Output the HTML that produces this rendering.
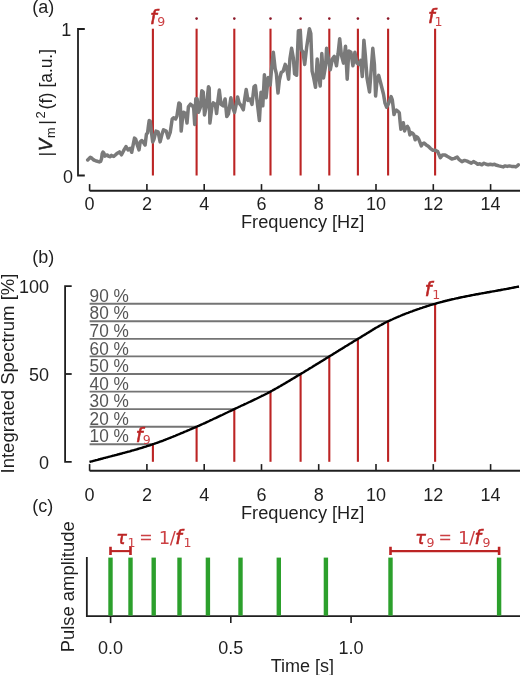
<!DOCTYPE html>
<html><head><meta charset="utf-8"><title>Figure</title>
<style>
html,body{margin:0;padding:0;background:#fff;}
svg{display:block;}
text{font-family:'Liberation Sans', 'DejaVu Sans', sans-serif;}
</style></head><body>
<svg width="520" height="675" viewBox="0 0 520 675">
<rect width="520" height="675" fill="#fff"/>
<text x="32.2" y="13.4" font-size="18" fill="#1f1f1f">(a)</text>
<path d="M84.8 29 H78 V175.5 H84.8" fill="none" stroke="#1f1f1f" stroke-width="1.8"/>
<text x="71.2" y="35.7" font-size="18" fill="#1f1f1f" text-anchor="end">1</text>
<text x="73" y="182.8" font-size="18" fill="#1f1f1f" text-anchor="end">0</text>
<path d="M89.6 190.8 H520" fill="none" stroke="#1f1f1f" stroke-width="1.9"/>
<path d="M89.6 184.1 V190.8" stroke="#1f1f1f" stroke-width="1.6"/>
<text x="89.6" y="210" font-size="18" fill="#1f1f1f" text-anchor="middle">0</text>
<path d="M146.9 184.1 V190.8" stroke="#1f1f1f" stroke-width="1.6"/>
<text x="146.9" y="210" font-size="18" fill="#1f1f1f" text-anchor="middle">2</text>
<path d="M204.2 184.1 V190.8" stroke="#1f1f1f" stroke-width="1.6"/>
<text x="204.2" y="210" font-size="18" fill="#1f1f1f" text-anchor="middle">4</text>
<path d="M261.5 184.1 V190.8" stroke="#1f1f1f" stroke-width="1.6"/>
<text x="261.5" y="210" font-size="18" fill="#1f1f1f" text-anchor="middle">6</text>
<path d="M318.7 184.1 V190.8" stroke="#1f1f1f" stroke-width="1.6"/>
<text x="318.7" y="210" font-size="18" fill="#1f1f1f" text-anchor="middle">8</text>
<path d="M376.0 184.1 V190.8" stroke="#1f1f1f" stroke-width="1.6"/>
<text x="376.0" y="210" font-size="18" fill="#1f1f1f" text-anchor="middle">10</text>
<path d="M433.3 184.1 V190.8" stroke="#1f1f1f" stroke-width="1.6"/>
<text x="433.3" y="210" font-size="18" fill="#1f1f1f" text-anchor="middle">12</text>
<path d="M490.6 184.1 V190.8" stroke="#1f1f1f" stroke-width="1.6"/>
<text x="490.6" y="210" font-size="18" fill="#1f1f1f" text-anchor="middle">14</text>
<text x="302.7" y="227.7" font-size="18" fill="#1f1f1f" text-anchor="middle" textLength="123.5" lengthAdjust="spacingAndGlyphs">Frequency [Hz]</text>
<g transform="translate(52.3,0) rotate(-90)" fill="#1f1f1f" font-size="18"><text x="-156.6" y="0">|</text><text x="-151" y="0" font-style="italic" stroke="#1f1f1f" stroke-width="0.6">V</text><text x="-138" y="2.3" font-size="12.7">m</text><text x="-124.7" y="0">|</text><text x="-118.6" y="-7" font-size="13">2</text><text x="-109.6" y="0">(f)</text><text x="-87.5" y="0" textLength="38.5" lengthAdjust="spacingAndGlyphs">[a.u.]</text></g>
<path d="M152.9 28.7 V175.5" stroke="#bc2424" stroke-width="2.1"/>
<path d="M196.6 28.7 V175.5" stroke="#bc2424" stroke-width="2.1"/>
<circle cx="196.6" cy="18.6" r="1.3" fill="#8c1828"/>
<path d="M234.3 28.7 V175.5" stroke="#bc2424" stroke-width="2.1"/>
<circle cx="234.3" cy="18.6" r="1.3" fill="#8c1828"/>
<path d="M270.5 28.7 V175.5" stroke="#bc2424" stroke-width="2.1"/>
<circle cx="270.5" cy="18.6" r="1.3" fill="#8c1828"/>
<path d="M300.6 28.7 V175.5" stroke="#bc2424" stroke-width="2.1"/>
<circle cx="300.6" cy="18.6" r="1.3" fill="#8c1828"/>
<path d="M329.3 28.7 V175.5" stroke="#bc2424" stroke-width="2.1"/>
<circle cx="329.3" cy="18.6" r="1.3" fill="#8c1828"/>
<path d="M357.9 28.7 V175.5" stroke="#bc2424" stroke-width="2.1"/>
<circle cx="357.9" cy="18.6" r="1.3" fill="#8c1828"/>
<path d="M388.1 28.7 V175.5" stroke="#bc2424" stroke-width="2.1"/>
<circle cx="388.1" cy="18.6" r="1.3" fill="#8c1828"/>
<path d="M435.1 28.7 V175.5" stroke="#bc2424" stroke-width="2.1"/>
<text x="150.0" y="23.5" font-size="19.5" style="font-family:'DejaVu Sans', 'Liberation Sans', sans-serif" fill="#bc2424" font-style="italic" stroke="#bc2424" stroke-width="0.55">f</text>
<text x="157.3" y="26.2" font-size="12.6" style="font-family:'DejaVu Sans', 'Liberation Sans', sans-serif" fill="#cc4044">9</text>
<text x="428" y="23.2" font-size="19.5" style="font-family:'DejaVu Sans', 'Liberation Sans', sans-serif" fill="#bc2424" font-style="italic" stroke="#bc2424" stroke-width="0.55">f</text>
<text x="434.4" y="26.1" font-size="12.6" style="font-family:'DejaVu Sans', 'Liberation Sans', sans-serif" fill="#cc4044">1</text>
<polyline points="87.7,159.9 88.9,158.7 90.3,157.4 91.8,158.1 93.2,159.6 94.7,160.4 96.1,161.0 97.5,161.3 99.3,161.9 100.7,161.3 101.6,158.4 102.2,153.8 103.0,152.1 103.9,153.2 104.8,156.1 105.9,155.5 107.4,155.0 108.8,156.4 110.2,156.7 111.4,155.3 112.5,156.1 113.7,156.4 114.9,155.3 116.0,154.4 117.4,153.2 119.5,151.9 121.5,154.8 123.6,150.7 126.0,146.6 128.0,149.9 130.1,148.3 131.7,152.3 133.3,144.2 134.5,138.1 135.8,139.3 137.0,144.2 139.0,149.9 140.2,141.8 141.9,140.5 143.5,142.6 145.1,145.0 146.4,134.4 147.6,132.8 148.4,126.3 149.2,120.6 150.2,121.0 151.3,131.1 152.7,141.9 154.0,139.2 156.0,131.1 158.1,131.8 160.1,141.9 162.1,133.8 163.5,129.8 166.2,131.1 168.2,137.9 170.2,132.5 172.2,119.0 173.6,117.7 175.6,119.0 176.9,116.3 178.9,102.9 180.3,104.2 181.2,131.1 182.3,120.4 183.6,112.3 185.7,113.6 187.0,123.1 188.4,106.9 190.4,104.2 192.4,105.6 193.7,108.3 194.7,124.4 195.8,98.8 197.1,98.8 198.5,112.3 200.5,106.9 201.8,90.8 203.2,92.1 204.5,115.0 206.5,105.6 208.5,86.7 209.2,88.1 209.9,123.1 211.9,106.9 213.3,102.9 215.3,104.2 216.6,113.6 218.0,100.2 219.3,90.1 221.0,104.4 223.1,105.8 225.1,99.0 226.8,116.5 228.5,113.8 230.9,97.7 232.5,107.1 234.5,112.5 235.9,105.8 237.6,97.0 239.2,103.1 241.2,105.8 243.3,109.8 244.9,97.7 246.2,89.6 248.0,100.4 250.0,99.0 252.0,104.4 254.0,86.9 255.4,85.6 257.0,100.4 259.4,120.6 261.0,92.3 262.8,105.8 264.4,74.8 266.1,97.7 268.2,77.5 270.2,85.0 271.7,67.1 273.3,52.3 275.1,68.5 276.4,73.8 278.0,93.0 279.4,80.0 281.2,72.5 283.2,71.1 285.2,64.4 286.5,67.1 288.6,79.2 289.9,59.0 291.6,48.3 293.3,57.7 294.6,73.8 296.6,75.2 298.4,30.8 300.3,30.8 301.3,49.6 303.0,52.3 304.7,64.4 306.7,46.9 309.4,28.7 310.8,33.5 312.1,71.1 313.7,77.9 315.5,87.3 317.2,59.0 318.8,76.5 320.2,86.0 321.8,53.6 323.5,77.9 325.6,65.8 326.6,48.3 328.3,57.7 330.3,69.8 332.3,59.0 334.3,56.3 336.5,65.8 338.1,53.6 339.7,38.8 341.4,55.0 343.5,63.1 345.5,46.2 347.2,79.2 348.8,51.0 350.9,52.3 352.9,65.8 354.9,52.3 356.9,63.1 358.9,64.4 360.7,60.4 362.3,76.5 363.9,40.2 365.3,55.0 367.0,77.9 369.5,92.0 372.8,48.3 374.4,64.4 375.6,96.0 377.0,80.0 378.7,75.4 380.8,83.5 383.5,94.2 385.0,103.1 386.6,107.2 388.3,104.0 389.9,99.9 391.1,96.6 392.3,99.9 393.1,106.4 394.0,114.6 395.2,111.3 396.4,110.1 398.0,111.3 399.3,112.9 400.1,121.9 400.9,129.2 402.1,126.0 403.3,122.7 404.6,130.9 405.8,127.6 407.4,126.4 408.6,128.4 409.9,134.9 411.1,132.5 412.7,133.3 413.9,134.9 415.2,139.8 416.4,136.6 417.6,137.4 418.8,139.4 420.0,142.3 421.3,145.9 422.5,143.9 424.1,143.1 426.2,144.9 428.3,146.2 430.3,148.3 433.0,150.3 435.3,150.3 437.7,151.6 440.4,157.7 442.4,155.0 445.1,155.0 447.1,156.3 449.8,157.7 451.8,159.0 454.5,158.4 457.2,157.0 459.2,159.7 461.9,161.7 464.6,160.4 467.1,161.1 469.2,162.2 471.3,163.2 473.5,161.6 475.6,162.7 477.7,164.3 479.8,163.8 481.9,164.8 484.0,163.2 486.2,164.3 488.3,164.8 490.4,164.3 492.5,164.8 494.6,164.3 496.7,165.3 498.9,165.9 501.0,166.4 503.1,166.9 505.2,165.9 507.3,166.4 509.4,165.9 511.6,166.4 513.7,166.4 515.8,166.9 517.9,165.3 518.4,164.8" fill="none" stroke="#7a7a7a" stroke-width="3.5" stroke-linejoin="round" stroke-linecap="round"/>
<text x="32.2" y="262.5" font-size="18" fill="#1f1f1f">(b)</text>
<path d="M71.7 286.2 H65.1 V461.8 H71.7" fill="none" stroke="#1f1f1f" stroke-width="1.8"/>
<path d="M65.1 374 H71.7" fill="none" stroke="#1f1f1f" stroke-width="1.8"/>
<text x="49" y="293.3" font-size="18" fill="#1f1f1f" text-anchor="end">100</text>
<text x="49" y="381.4" font-size="18" fill="#1f1f1f" text-anchor="end">50</text>
<text x="49" y="469" font-size="18" fill="#1f1f1f" text-anchor="end">0</text>
<path d="M89.6 470.8 H520" fill="none" stroke="#1f1f1f" stroke-width="1.9"/>
<path d="M89.6 464.1 V470.8" stroke="#1f1f1f" stroke-width="1.6"/>
<text x="89.6" y="501.2" font-size="18" fill="#1f1f1f" text-anchor="middle">0</text>
<path d="M146.9 464.1 V470.8" stroke="#1f1f1f" stroke-width="1.6"/>
<text x="146.9" y="501.2" font-size="18" fill="#1f1f1f" text-anchor="middle">2</text>
<path d="M204.2 464.1 V470.8" stroke="#1f1f1f" stroke-width="1.6"/>
<text x="204.2" y="501.2" font-size="18" fill="#1f1f1f" text-anchor="middle">4</text>
<path d="M261.5 464.1 V470.8" stroke="#1f1f1f" stroke-width="1.6"/>
<text x="261.5" y="501.2" font-size="18" fill="#1f1f1f" text-anchor="middle">6</text>
<path d="M318.7 464.1 V470.8" stroke="#1f1f1f" stroke-width="1.6"/>
<text x="318.7" y="501.2" font-size="18" fill="#1f1f1f" text-anchor="middle">8</text>
<path d="M376.0 464.1 V470.8" stroke="#1f1f1f" stroke-width="1.6"/>
<text x="376.0" y="501.2" font-size="18" fill="#1f1f1f" text-anchor="middle">10</text>
<path d="M433.3 464.1 V470.8" stroke="#1f1f1f" stroke-width="1.6"/>
<text x="433.3" y="501.2" font-size="18" fill="#1f1f1f" text-anchor="middle">12</text>
<path d="M490.6 464.1 V470.8" stroke="#1f1f1f" stroke-width="1.6"/>
<text x="490.6" y="501.2" font-size="18" fill="#1f1f1f" text-anchor="middle">14</text>
<text x="302.7" y="518.8" font-size="18" fill="#1f1f1f" text-anchor="middle" textLength="123.5" lengthAdjust="spacingAndGlyphs">Frequency [Hz]</text>
<text transform="translate(14.2,473.5) rotate(-90)" font-size="18" fill="#1f1f1f" textLength="200" lengthAdjust="spacingAndGlyphs">Integrated Spectrum [%]</text>
<path d="M89.6 444.2 H152.9" stroke="#747474" stroke-width="1.9"/>
<text x="89.6" y="442.3" font-size="18" fill="#555555" textLength="39.3" lengthAdjust="spacingAndGlyphs">10 %</text>
<path d="M89.6 426.7 H196.6" stroke="#747474" stroke-width="1.9"/>
<text x="89.6" y="424.8" font-size="18" fill="#555555" textLength="39.3" lengthAdjust="spacingAndGlyphs">20 %</text>
<path d="M89.6 409.1 H234.3" stroke="#747474" stroke-width="1.9"/>
<text x="89.6" y="407.2" font-size="18" fill="#555555" textLength="39.3" lengthAdjust="spacingAndGlyphs">30 %</text>
<path d="M89.6 391.6 H270.5" stroke="#747474" stroke-width="1.9"/>
<text x="89.6" y="389.7" font-size="18" fill="#555555" textLength="39.3" lengthAdjust="spacingAndGlyphs">40 %</text>
<path d="M89.6 374.0 H300.6" stroke="#747474" stroke-width="1.9"/>
<text x="89.6" y="372.1" font-size="18" fill="#555555" textLength="39.3" lengthAdjust="spacingAndGlyphs">50 %</text>
<path d="M89.6 356.4 H329.3" stroke="#747474" stroke-width="1.9"/>
<text x="89.6" y="354.5" font-size="18" fill="#555555" textLength="39.3" lengthAdjust="spacingAndGlyphs">60 %</text>
<path d="M89.6 338.9 H357.9" stroke="#747474" stroke-width="1.9"/>
<text x="89.6" y="337.0" font-size="18" fill="#555555" textLength="39.3" lengthAdjust="spacingAndGlyphs">70 %</text>
<path d="M89.6 321.3 H388.1" stroke="#747474" stroke-width="1.9"/>
<text x="89.6" y="319.4" font-size="18" fill="#555555" textLength="39.3" lengthAdjust="spacingAndGlyphs">80 %</text>
<path d="M89.6 303.8 H435.1" stroke="#747474" stroke-width="1.9"/>
<text x="89.6" y="301.9" font-size="18" fill="#555555" textLength="39.3" lengthAdjust="spacingAndGlyphs">90 %</text>
<path d="M152.9 444.2 V461.8" stroke="#bc2424" stroke-width="2.1"/>
<path d="M196.6 426.7 V461.8" stroke="#bc2424" stroke-width="2.1"/>
<path d="M234.3 409.1 V461.8" stroke="#bc2424" stroke-width="2.1"/>
<path d="M270.5 391.6 V461.8" stroke="#bc2424" stroke-width="2.1"/>
<path d="M300.6 374.0 V461.8" stroke="#bc2424" stroke-width="2.1"/>
<path d="M329.3 356.4 V461.8" stroke="#bc2424" stroke-width="2.1"/>
<path d="M357.9 338.9 V461.8" stroke="#bc2424" stroke-width="2.1"/>
<path d="M388.1 321.3 V461.8" stroke="#bc2424" stroke-width="2.1"/>
<path d="M435.1 303.8 V461.8" stroke="#bc2424" stroke-width="2.1"/>
<polyline points="89.5,462.0 90.5,461.7 91.5,461.4 92.5,461.2 93.5,460.9 94.5,460.6 95.5,460.3 96.5,460.1 97.6,459.8 98.6,459.5 99.6,459.3 100.6,459.0 101.6,458.7 102.6,458.5 103.6,458.2 104.6,457.9 105.6,457.7 106.6,457.4 107.6,457.2 108.6,456.9 109.6,456.6 110.6,456.4 111.6,456.1 112.6,455.8 113.7,455.6 114.7,455.3 115.7,455.1 116.7,454.8 117.7,454.5 118.7,454.3 119.7,454.0 120.7,453.7 121.7,453.5 122.7,453.2 123.7,452.9 124.7,452.7 125.7,452.4 126.7,452.1 127.7,451.8 128.7,451.6 129.8,451.3 130.8,451.0 131.8,450.7 132.8,450.4 133.8,450.2 134.8,449.9 135.8,449.6 136.8,449.3 137.8,449.0 138.8,448.7 139.8,448.4 140.8,448.1 141.8,447.8 142.8,447.5 143.8,447.2 144.8,446.9 145.9,446.6 146.9,446.2 147.9,445.9 148.9,445.6 149.9,445.3 150.9,444.9 151.9,444.6 152.9,444.2 153.9,443.9 154.9,443.5 155.9,443.2 157.0,442.8 158.0,442.5 159.0,442.1 160.0,441.7 161.0,441.3 162.0,441.0 163.1,440.6 164.1,440.2 165.1,439.8 166.1,439.4 167.1,439.0 168.1,438.6 169.2,438.2 170.2,437.8 171.2,437.4 172.2,437.0 173.2,436.6 174.2,436.2 175.3,435.8 176.3,435.3 177.3,434.9 178.3,434.5 179.3,434.1 180.3,433.7 181.4,433.2 182.4,432.8 183.4,432.4 184.4,431.9 185.4,431.5 186.4,431.1 187.5,430.6 188.5,430.2 189.5,429.8 190.5,429.3 191.5,428.9 192.5,428.4 193.6,428.0 194.6,427.6 195.6,427.1 196.6,426.7 197.6,426.2 198.6,425.8 199.7,425.3 200.7,424.9 201.7,424.4 202.7,424.0 203.7,423.5 204.8,423.1 205.8,422.6 206.8,422.1 207.8,421.7 208.8,421.2 209.8,420.7 210.9,420.2 211.9,419.8 212.9,419.3 213.9,418.8 214.9,418.3 216.0,417.9 217.0,417.4 218.0,416.9 219.0,416.4 220.0,415.9 221.1,415.4 222.1,415.0 223.1,414.5 224.1,414.0 225.1,413.5 226.1,413.0 227.2,412.5 228.2,412.0 229.2,411.5 230.2,411.1 231.2,410.6 232.3,410.1 233.3,409.6 234.3,409.1 235.3,408.6 236.3,408.2 237.3,407.7 238.3,407.2 239.3,406.7 240.3,406.3 241.3,405.8 242.3,405.3 243.4,404.9 244.4,404.4 245.4,403.9 246.4,403.5 247.4,403.0 248.4,402.5 249.4,402.0 250.4,401.6 251.4,401.1 252.4,400.6 253.4,400.1 254.4,399.6 255.4,399.2 256.4,398.7 257.4,398.2 258.4,397.7 259.4,397.2 260.4,396.7 261.4,396.2 262.5,395.7 263.5,395.2 264.5,394.7 265.5,394.2 266.5,393.7 267.5,393.2 268.5,392.6 269.5,392.1 270.5,391.6 271.5,391.0 272.5,390.5 273.5,389.9 274.5,389.4 275.5,388.8 276.5,388.3 277.5,387.7 278.5,387.1 279.5,386.5 280.5,386.0 281.5,385.4 282.5,384.8 283.5,384.2 284.5,383.6 285.6,383.0 286.6,382.4 287.6,381.8 288.6,381.2 289.6,380.6 290.6,380.0 291.6,379.4 292.6,378.8 293.6,378.2 294.6,377.6 295.6,377.0 296.6,376.4 297.6,375.8 298.6,375.2 299.6,374.6 300.6,374.0 301.6,373.4 302.7,372.8 303.7,372.2 304.7,371.5 305.7,370.9 306.8,370.3 307.8,369.7 308.8,369.0 309.8,368.4 310.9,367.8 311.9,367.2 312.9,366.5 313.9,365.9 315.0,365.3 316.0,364.6 317.0,364.0 318.0,363.4 319.1,362.7 320.1,362.1 321.1,361.5 322.1,360.9 323.2,360.2 324.2,359.6 325.2,359.0 326.2,358.3 327.2,357.7 328.3,357.1 329.3,356.4 330.3,355.8 331.3,355.2 332.4,354.6 333.4,353.9 334.4,353.3 335.4,352.7 336.4,352.0 337.5,351.4 338.5,350.8 339.5,350.1 340.5,349.5 341.6,348.9 342.6,348.2 343.6,347.6 344.6,347.0 345.6,346.3 346.7,345.7 347.7,345.1 348.7,344.5 349.7,343.8 350.8,343.2 351.8,342.6 352.8,342.0 353.8,341.3 354.8,340.7 355.9,340.1 356.9,339.5 357.9,338.9 358.9,338.3 359.9,337.7 360.9,337.1 361.9,336.4 362.9,335.8 363.9,335.2 364.9,334.6 366.0,334.0 367.0,333.3 368.0,332.7 369.0,332.1 370.0,331.5 371.0,330.9 372.0,330.3 373.0,329.6 374.0,329.0 375.0,328.4 376.0,327.8 377.0,327.3 378.0,326.7 379.0,326.1 380.0,325.5 381.1,325.0 382.1,324.4 383.1,323.9 384.1,323.3 385.1,322.8 386.1,322.3 387.1,321.8 388.1,321.3 389.1,320.8 390.1,320.4 391.1,319.9 392.1,319.5 393.1,319.0 394.1,318.5 395.1,318.1 396.1,317.7 397.1,317.2 398.1,316.8 399.1,316.4 400.1,316.0 401.1,315.5 402.1,315.1 403.1,314.7 404.1,314.3 405.1,313.9 406.1,313.5 407.1,313.1 408.1,312.8 409.1,312.4 410.1,312.0 411.1,311.6 412.1,311.3 413.1,310.9 414.1,310.5 415.1,310.2 416.1,309.8 417.1,309.5 418.1,309.1 419.1,308.8 420.1,308.4 421.1,308.1 422.1,307.8 423.1,307.4 424.1,307.1 425.1,306.8 426.1,306.5 427.1,306.2 428.1,305.9 429.1,305.5 430.1,305.2 431.1,304.9 432.1,304.6 433.1,304.3 434.1,304.1 435.1,303.8 436.1,303.5 437.1,303.2 438.1,302.9 439.1,302.6 440.2,302.3 441.2,302.1 442.2,301.8 443.2,301.5 444.2,301.3 445.2,301.0 446.2,300.8 447.2,300.5 448.2,300.3 449.3,300.0 450.3,299.8 451.3,299.5 452.3,299.3 453.3,299.1 454.3,298.9 455.3,298.6 456.3,298.4 457.3,298.2 458.3,298.0 459.4,297.7 460.4,297.5 461.4,297.3 462.4,297.1 463.4,296.9 464.4,296.7 465.4,296.5 466.4,296.3 467.4,296.1 468.5,295.9 469.5,295.7 470.5,295.5 471.5,295.3 472.5,295.1 473.5,294.9 474.5,294.7 475.5,294.5 476.5,294.3 477.6,294.2 478.6,294.0 479.6,293.8 480.6,293.6 481.6,293.4 482.6,293.2 483.6,293.1 484.6,292.9 485.6,292.7 486.7,292.5 487.7,292.3 488.7,292.2 489.7,292.0 490.7,291.8 491.7,291.6 492.7,291.4 493.7,291.3 494.7,291.1 495.8,290.9 496.8,290.7 497.8,290.5 498.8,290.3 499.8,290.2 500.8,290.0 501.8,289.8 502.8,289.6 503.8,289.4 504.8,289.2 505.9,289.1 506.9,288.9 507.9,288.7 508.9,288.5 509.9,288.3 510.9,288.1 511.9,287.9 512.9,287.7 513.9,287.5 515.0,287.3 516.0,287.1 517.0,286.9 518.0,286.7 519.0,286.5" fill="none" stroke="#000" stroke-width="2.4" stroke-linejoin="round"/>
<text x="135.8" y="441.6" font-size="19.5" style="font-family:'DejaVu Sans', 'Liberation Sans', sans-serif" fill="#bc2424" font-style="italic" stroke="#bc2424" stroke-width="0.55">f</text>
<text x="142.8" y="444.3" font-size="12.6" style="font-family:'DejaVu Sans', 'Liberation Sans', sans-serif" fill="#cc4044">9</text>
<text x="424.7" y="296" font-size="19.5" style="font-family:'DejaVu Sans', 'Liberation Sans', sans-serif" fill="#bc2424" font-style="italic" stroke="#bc2424" stroke-width="0.55">f</text>
<text x="432.3" y="298.8" font-size="12.6" style="font-family:'DejaVu Sans', 'Liberation Sans', sans-serif" fill="#cc4044">1</text>
<text x="32.2" y="511.8" font-size="18" fill="#1f1f1f">(c)</text>
<path d="M86.85 557 V616.2 H520" fill="none" stroke="#1f1f1f" stroke-width="1.8"/>
<path d="M110.6 616.2 V623.1" stroke="#1f1f1f" stroke-width="1.6"/>
<text x="110.6" y="654" font-size="18" fill="#1f1f1f" text-anchor="middle">0.0</text>
<path d="M230.8 616.2 V623.1" stroke="#1f1f1f" stroke-width="1.6"/>
<text x="230.8" y="654" font-size="18" fill="#1f1f1f" text-anchor="middle">0.5</text>
<path d="M351.1 616.2 V623.1" stroke="#1f1f1f" stroke-width="1.6"/>
<text x="351.1" y="654" font-size="18" fill="#1f1f1f" text-anchor="middle">1.0</text>
<text x="302.4" y="671.5" font-size="18" fill="#1f1f1f" text-anchor="middle" textLength="63.5" lengthAdjust="spacingAndGlyphs">Time [s]</text>
<text transform="translate(73.5,652.3) rotate(-90)" font-size="18" fill="#1f1f1f" textLength="131" lengthAdjust="spacingAndGlyphs">Pulse amplitude</text>
<path d="M110.5 557.6 V615.6" stroke="#2ca02c" stroke-width="4.4"/>
<path d="M130.5 557.6 V615.6" stroke="#2ca02c" stroke-width="4.4"/>
<path d="M153.7 557.6 V615.6" stroke="#2ca02c" stroke-width="4.4"/>
<path d="M179.5 557.6 V615.6" stroke="#2ca02c" stroke-width="4.4"/>
<path d="M207.9 557.6 V615.6" stroke="#2ca02c" stroke-width="4.4"/>
<path d="M240.5 557.6 V615.6" stroke="#2ca02c" stroke-width="4.4"/>
<path d="M278.8 557.6 V615.6" stroke="#2ca02c" stroke-width="4.4"/>
<path d="M325.9 557.6 V615.6" stroke="#2ca02c" stroke-width="4.4"/>
<path d="M390.5 557.6 V615.6" stroke="#2ca02c" stroke-width="4.4"/>
<path d="M499.1 557.6 V615.6" stroke="#2ca02c" stroke-width="4.4"/>
<path d="M110.5 551.1 H130.5" fill="none" stroke="#bc2424" stroke-width="2.1"/>
<path d="M110.5 546.8 V554.9 M130.5 546.8 V554.9" fill="none" stroke="#bc2424" stroke-width="2.6"/>
<path d="M390.5 551.1 H499.1" fill="none" stroke="#bc2424" stroke-width="2.1"/>
<path d="M390.5 546.8 V554.9 M499.1 546.8 V554.9" fill="none" stroke="#bc2424" stroke-width="2.6"/>
<text x="116.2" y="543.7" font-size="18" style="font-family:'DejaVu Sans', 'Liberation Sans', sans-serif" fill="#bc2424" font-style="italic" stroke="#bc2424" stroke-width="0.55" textLength="10.6" lengthAdjust="spacingAndGlyphs">τ</text>
<text x="127.5" y="546.8" font-size="12.6" style="font-family:'DejaVu Sans', 'Liberation Sans', sans-serif" fill="#cc4044">1</text>
<text x="139.3" y="543.4" font-size="18" style="font-family:'DejaVu Sans', 'Liberation Sans', sans-serif" fill="#cc4044" textLength="13.4" lengthAdjust="spacingAndGlyphs">=</text>
<text x="158.8" y="544.2" font-size="18" style="font-family:'DejaVu Sans', 'Liberation Sans', sans-serif" fill="#cc4044">1</text>
<text x="169.8" y="544.2" font-size="18" style="font-family:'DejaVu Sans', 'Liberation Sans', sans-serif" fill="#cc4044">/</text>
<text x="175.3" y="543.7" font-size="19" style="font-family:'DejaVu Sans', 'Liberation Sans', sans-serif" fill="#bc2424" font-style="italic" stroke="#bc2424" stroke-width="0.55">f</text>
<text x="183.5" y="546.8" font-size="12.6" style="font-family:'DejaVu Sans', 'Liberation Sans', sans-serif" fill="#cc4044">1</text>
<text x="415.3" y="543.7" font-size="18" style="font-family:'DejaVu Sans', 'Liberation Sans', sans-serif" fill="#bc2424" font-style="italic" stroke="#bc2424" stroke-width="0.55" textLength="10.6" lengthAdjust="spacingAndGlyphs">τ</text>
<text x="426.6" y="546.8" font-size="12.6" style="font-family:'DejaVu Sans', 'Liberation Sans', sans-serif" fill="#cc4044">9</text>
<text x="438.40000000000003" y="543.4" font-size="18" style="font-family:'DejaVu Sans', 'Liberation Sans', sans-serif" fill="#cc4044" textLength="13.4" lengthAdjust="spacingAndGlyphs">=</text>
<text x="457.90000000000003" y="544.2" font-size="18" style="font-family:'DejaVu Sans', 'Liberation Sans', sans-serif" fill="#cc4044">1</text>
<text x="468.90000000000003" y="544.2" font-size="18" style="font-family:'DejaVu Sans', 'Liberation Sans', sans-serif" fill="#cc4044">/</text>
<text x="474.40000000000003" y="543.7" font-size="19" style="font-family:'DejaVu Sans', 'Liberation Sans', sans-serif" fill="#bc2424" font-style="italic" stroke="#bc2424" stroke-width="0.55">f</text>
<text x="482.6" y="546.8" font-size="12.6" style="font-family:'DejaVu Sans', 'Liberation Sans', sans-serif" fill="#cc4044">9</text>
</svg>
</body></html>
